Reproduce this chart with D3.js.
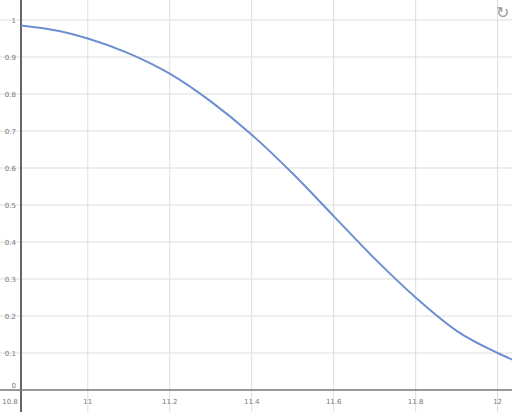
<!DOCTYPE html><html><head><script src="https://cdn.jsdelivr.net/npm/d3@7"></script>
<style>body{margin:0;background:#fff}</style></head><body><svg id="c" width="512" height="412"></svg>
<script>
const xTicks=[11,11.2,11.4,11.6,11.8,12];
const xTickLabels=["11","11.2","11.4","11.6","11.8","12"];
const yTicks=[0.1,0.2,0.3,0.4,0.5,0.6,0.7,0.8,0.9,1];
const curveX=[10.837,10.93,11,11.1,11.2,11.3,11.4,11.5,11.6,11.7,11.8,11.9,12,12.04];
const curveY=[0.985,0.97,0.95,0.91,0.855,0.78,0.69,0.585,0.47,0.355,0.25,0.16,0.10,0.08];
const svg=d3.select("#c");
const x=d3.scaleLinear().domain([10.837,12.04]).range([21,514]);
const y=d3.scaleLinear().domain([0,1]).range([390,20]);
const g=svg.append("g");
g.selectAll(".vx").data(xTicks).join("line").attr("x1",d=>x(d)).attr("x2",d=>x(d)).attr("y1",0).attr("y2",412).attr("stroke","#ddd");
g.selectAll(".hy").data(yTicks).join("line").attr("y1",d=>y(d)).attr("y2",d=>y(d)).attr("x1",0).attr("x2",512).attr("stroke","#ddd");
svg.append("line").attr("x1",x(10.837)).attr("x2",x(10.837)).attr("y1",0).attr("y2",412).attr("stroke","#666").attr("stroke-width",2);
svg.append("line").attr("x1",0).attr("x2",512).attr("y1",y(0)).attr("y2",y(0)).attr("stroke","#777").attr("stroke-width",1.5);
svg.selectAll(".xl").data(xTicks).join("text").attr("x",d=>x(d)).attr("y",404).attr("text-anchor","middle").attr("font-size",7).attr("fill","#777").attr("font-family","DejaVu Sans").text((d,i)=>xTickLabels[i]);
svg.append("text").attr("x",10).attr("y",404).attr("text-anchor","middle").attr("font-size",7).attr("fill","#777").attr("font-family","DejaVu Sans").text("10.8");
svg.selectAll(".yl").data(yTicks).join("text").attr("x",16).attr("y",d=>y(d)+2.5).attr("text-anchor","end").attr("font-size",7).attr("fill","#777").attr("font-family","DejaVu Sans").text(d=>d===1?"1":d.toFixed(1));
svg.append("text").attr("x",16).attr("y",y(0)-2).attr("text-anchor","end").attr("font-size",7).attr("fill","#777").attr("font-family","DejaVu Sans").text("0");
const pts=curveX.map((v,i)=>[v,curveY[i]]);
svg.append("path").attr("d",d3.line().x(d=>x(d[0])).y(d=>y(d[1])).curve(d3.curveMonotoneX)(pts)).attr("fill","none").attr("stroke","#6b8fd0").attr("stroke-width",2);
svg.append("text").attr("x",502).attr("y",18).attr("text-anchor","middle").attr("font-size",16).attr("fill","#999").text("↻");
</script></body></html>
